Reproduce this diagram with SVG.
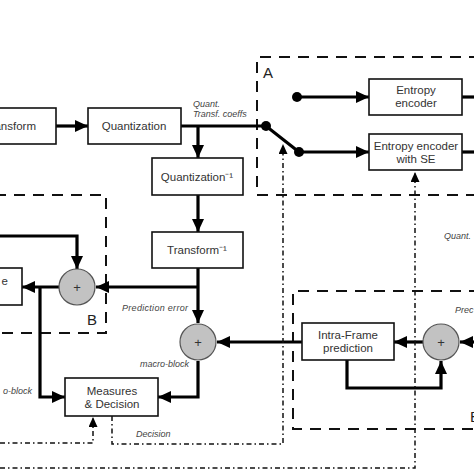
<svg xmlns="http://www.w3.org/2000/svg" width="474" height="474" viewBox="0 0 474 474">
<defs>
<style>
.box{fill:#fff;stroke:#111;stroke-width:1.6}
.bt{font-family:"Liberation Sans",Arial,sans-serif;font-size:11.5px;fill:#333;text-anchor:middle}
.lb{font-family:"Liberation Sans",Arial,sans-serif;font-size:9px;font-style:italic;fill:#444}
.big{font-family:"Liberation Sans",Arial,sans-serif;font-size:15px;fill:#222}
.th{fill:none;stroke:#000;stroke-width:3.2}
.dd{fill:none;stroke:#111;stroke-width:1.5;stroke-dasharray:5 3 1.5 3}
.dash{fill:none;stroke:#111;stroke-width:2;stroke-dasharray:11 8}
.sum{fill:#c2c2c2;stroke:#555;stroke-width:1.2}
.pl{font-family:"Liberation Sans",Arial,sans-serif;font-size:13px;fill:#333;text-anchor:middle}
</style>
<marker id="ah" markerUnits="userSpaceOnUse" markerWidth="14" markerHeight="12" refX="13" refY="6" orient="auto">
<path d="M0,0 L13,6 L0,12 z" fill="#000"/>
</marker>
<marker id="ah2" markerUnits="userSpaceOnUse" markerWidth="10" markerHeight="9" refX="10" refY="4.5" orient="auto">
<path d="M0,0 L10,4.5 L0,9 z" fill="#000"/>
</marker>
</defs>

<g id="regions">
<path class="dash" d="M480,57 L257,57 L257,195 L480,195"/>
<path class="dash" d="M-5,195 L106,195 L106,333 L-5,333"/>
<path class="dash" d="M480,291 L293,291 L293,429 L480,429"/>
<text class="big" x="263" y="78">A</text>
<text class="big" x="87" y="325">B</text>
<text class="big" x="470" y="422">B</text>
</g>

<g id="connectors">
<path class="th" d="M56,126 L88,126" marker-end="url(#ah)"/>
<path class="th" d="M181,126 L266,126 L299,152"/>
<path class="th" d="M198,126 L198,158" marker-end="url(#ah)"/>
<path class="th" d="M198,195 L198,232" marker-end="url(#ah)"/>
<path class="th" d="M198,268 L198,323" marker-end="url(#ah)"/>
<path class="th" d="M198,287 L96,287" marker-end="url(#ah)"/>
<path class="th" d="M0,236 L77,236 L77,269" marker-end="url(#ah)"/>
<path class="th" d="M59,287 L22,287" marker-end="url(#ah)"/>
<path class="th" d="M40,287 L40,397 L65,397" marker-end="url(#ah)"/>
<path class="th" d="M198,361 L198,397 L158,397" marker-end="url(#ah)"/>
<path class="th" d="M302,342 L217,342" marker-end="url(#ah)"/>
<path class="th" d="M423,342 L394,342" marker-end="url(#ah)"/>
<path class="th" d="M476,342 L460,342" marker-end="url(#ah)"/>
<path class="th" d="M347,360 L347,388 L441,388 L441,361" marker-end="url(#ah)"/>
<path class="th" d="M297,97 L369,97" marker-end="url(#ah)"/>
<path class="th" d="M299,152 L369,152" marker-end="url(#ah)"/>
<path class="th" d="M462,97 L476,97"/>
<path class="th" d="M462,152 L476,152"/>
<circle cx="266" cy="126" r="5" fill="#000"/>
<circle cx="299" cy="152" r="5" fill="#000"/>
<circle cx="297" cy="97" r="5" fill="#000"/>
<path class="dd" d="M0,468 L415,468 L415,172" marker-end="url(#ah2)"/>
<path class="dd" d="M112,416 L112,444 L283,444 L283,144" marker-end="url(#ah2)"/>
<path class="dd" d="M0,443 L93,443 L93,417" marker-end="url(#ah2)"/>
<text class="lb" x="193" y="107">Quant.</text>
<text class="lb" x="193" y="117">Transf. coeffs</text>
<text class="lb" x="122" y="311" textLength="66">Prediction error</text>
<text class="lb" x="140" y="367">macro-block</text>
<text class="lb" x="32" y="394" text-anchor="end">o-block</text>
<text class="lb" x="136" y="437">Decision</text>
<text class="lb" x="444" y="239">Quant.</text>
<text class="lb" x="455" y="313">Prec</text>
</g>

<g id="transform">
<rect class="box" x="-40" y="108" width="96" height="36"/>
<text class="bt" x="36" y="130" text-anchor="end" style="text-anchor:end">Transform</text>
</g>
<g id="quantization">
<rect class="box" x="88" y="108" width="93" height="36"/>
<text class="bt" x="134" y="130">Quantization</text>
</g>
<g id="inv-quantization">
<rect class="box" x="152" y="158" width="91" height="37"/>
<text class="bt" x="197" y="181">Quantization⁻¹</text>
</g>
<g id="inv-transform">
<rect class="box" x="152" y="232" width="91" height="36"/>
<text class="bt" x="197" y="254">Transform⁻¹</text>
</g>
<g id="entropy-encoder">
<rect class="box" x="369" y="79" width="93" height="36"/>
<text class="bt" x="416" y="94">Entropy</text>
<text class="bt" x="416" y="107">encoder</text>
</g>
<g id="entropy-encoder-se">
<rect class="box" x="369" y="134" width="93" height="36"/>
<text class="bt" x="416" y="150">Entropy encoder</text>
<text class="bt" x="416" y="163">with SE</text>
</g>
<g id="left-box">
<rect class="box" x="-40" y="268" width="62" height="37"/>
<text class="bt" x="8" y="285" style="text-anchor:end">e</text>
</g>
<g id="sum-left">
<circle class="sum" cx="77" cy="287" r="18"/>
<text class="pl" x="77" y="292">+</text>
</g>
<g id="sum-mid">
<circle class="sum" cx="198" cy="342" r="18"/>
<text class="pl" x="198" y="347">+</text>
</g>
<g id="sum-right">
<circle class="sum" cx="441" cy="342" r="18"/>
<text class="pl" x="441" y="347">+</text>
</g>
<g id="intra-frame">
<rect class="box" x="302" y="323" width="92" height="37"/>
<text class="bt" x="348" y="339">Intra-Frame</text>
<text class="bt" x="348" y="352">prediction</text>
</g>
<g id="measures">
<rect class="box" x="65" y="378" width="93" height="38"/>
<text class="bt" x="112" y="395">Measures</text>
<text class="bt" x="112" y="408">&amp; Decision</text>
</g>
</svg>
